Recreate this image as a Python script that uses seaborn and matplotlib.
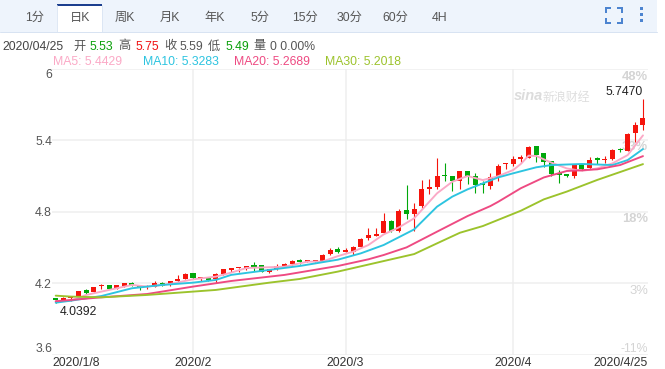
import matplotlib
matplotlib.use("Agg")
import matplotlib.pyplot as plt
from matplotlib.patches import Rectangle
import pandas as pd
import seaborn as sns

# ---- data ----
opens = [4.067,4.056,4.076,4.095,4.146,4.132,4.177,4.185,4.157,4.179,
         4.207,4.174,4.171,4.174,4.207,4.188,4.218,4.238,4.286,4.240,
         4.244,4.236,4.280,4.316,4.327,4.319,4.358,4.353,4.299,4.325,
         4.350,4.361,4.397,4.384,4.385,4.383,4.445,4.490,4.467,4.467,
         4.509,4.585,4.599,4.626,4.724,4.640,4.817,4.786,4.853,4.997,
         5.012,5.110,5.102,5.063,5.141,5.102,5.043,5.021,5.096,5.200,
         5.203,5.247,5.256,5.354,5.292,5.228,5.125,5.108,5.102,5.200,
         5.166,5.243,5.233,5.242,5.321,5.312,5.460,5.530]
closes = [4.064,4.081,4.079,4.135,4.121,4.168,4.180,4.154,4.185,4.202,
          4.179,4.171,4.174,4.202,4.179,4.218,4.235,4.277,4.249,4.244,
          4.232,4.277,4.322,4.319,4.330,4.347,4.341,4.299,4.322,4.347,
          4.353,4.389,4.381,4.387,4.389,4.439,4.481,4.464,4.470,4.506,
          4.574,4.607,4.612,4.724,4.640,4.808,4.786,4.825,4.990,5.000,
          5.102,5.099,5.060,5.141,5.105,5.029,5.024,5.091,5.186,5.203,
          5.245,5.250,5.343,5.278,5.222,5.119,5.108,5.105,5.194,5.158,
          5.236,5.240,5.236,5.321,5.318,5.454,5.530,5.590]
highs = [4.067,4.083,4.095,4.140,4.154,4.174,4.196,4.187,4.187,4.207,
         4.210,4.185,4.185,4.224,4.210,4.224,4.269,4.285,4.290,4.258,
         4.252,4.285,4.325,4.320,4.333,4.350,4.381,4.355,4.325,4.361,
         4.369,4.397,4.406,4.389,4.390,4.448,4.498,4.509,4.498,4.512,
         4.582,4.663,4.666,4.789,4.733,4.822,5.026,4.873,5.066,5.077,
         5.250,5.208,5.102,5.141,5.141,5.124,5.060,5.124,5.203,5.208,
         5.270,5.278,5.354,5.357,5.295,5.230,5.153,5.113,5.197,5.200,
         5.264,5.264,5.270,5.325,5.337,5.466,5.553,5.750]
lows = [4.039,4.050,4.050,4.090,4.112,4.126,4.151,4.150,4.150,4.174,
        4.175,4.146,4.157,4.170,4.175,4.180,4.215,4.235,4.240,4.220,
        4.220,4.200,4.274,4.299,4.299,4.315,4.308,4.297,4.291,4.316,
        4.341,4.350,4.364,4.382,4.383,4.378,4.436,4.456,4.464,4.439,
        4.504,4.562,4.600,4.626,4.635,4.635,4.738,4.643,4.831,4.951,
        4.990,5.060,4.976,4.996,5.038,4.962,4.962,4.993,5.063,5.163,
        5.189,5.214,5.250,5.222,5.180,5.102,5.041,5.091,5.088,5.147,
        5.158,5.203,5.214,5.238,5.306,5.310,5.390,5.490]

ma5_days = [0,2,4,7,10,12,15,18,21,23,25,30,33,35,37,39,41,43,45,47,48,50,52,54,56,58,60,61,62,63,65,67,69,71,73,75,77]
ma5_vals = [4.051,4.056,4.104,4.146,4.188,4.174,4.196,4.235,4.258,4.291,4.330,4.341,4.383,4.385,4.430,4.467,4.523,4.612,4.671,4.747,4.817,4.957,5.054,5.102,5.068,5.100,5.153,5.204,5.273,5.270,5.214,5.166,5.144,5.166,5.208,5.278,5.4429]
ma10_days = [0,2,6,10,14,18,21,23,28,32,37,40,43,47,50,52,54,56,58,60,63,65,69,73,75,77]
ma10_vals = [4.039,4.056,4.095,4.160,4.188,4.207,4.230,4.272,4.314,4.347,4.400,4.453,4.523,4.654,4.845,4.929,4.990,5.040,5.090,5.125,5.175,5.194,5.203,5.194,5.236,5.3283]
ma20_days = [0,6,12,18,23,30,37,41,43,46,50,54,57,58,61,64,67,71,74,77]
ma20_vals = [4.051,4.084,4.112,4.174,4.221,4.272,4.347,4.403,4.439,4.503,4.635,4.766,4.850,4.885,5.000,5.090,5.144,5.158,5.194,5.2689]
ma30_days = [0,2,6,12,18,21,28,32,37,44,47,50,53,56,61,64,67,71,77]
ma30_vals = [4.098,4.090,4.084,4.104,4.132,4.146,4.207,4.238,4.300,4.403,4.447,4.537,4.626,4.682,4.811,4.906,4.971,5.069,5.2018]

y_ticks = [6, 5.4, 4.8, 4.2, 3.6]
y_labels = ["6", "5.4", "4.8", "4.2", "3.6"]
x_days = [18, 38, 60]
x_labels = ["2020/1/8", "2020/2", "2020/3", "2020/4", "2020/4/25"]
pct_labels = ["48%", "33%", "18%", "3%", "-11%"]
tabs = ["1分", "日K", "周K", "月K", "年K", "5分", "15分", "30分", "60分", "4H"]

RED, GREEN = "#f5140c", "#00a80b"
MA_COL = {"MA5": "#fba9c6", "MA10": "#2dc4e0", "MA20": "#ee4a82", "MA30": "#9cc32c"}
FONT = ["Liberation Sans", "Noto Sans CJK SC"]
PX = 0.72  # points per pixel at dpi 100

sns.set_theme(style="white")
plt.rcParams["font.family"] = FONT

fig = plt.figure(figsize=(6.65, 3.69), dpi=100, facecolor="white")
W, H = 665, 369
L, R, T, B = 52, 648, 69, 355
ax = fig.add_axes([L / W, 1 - B / H, (R - L) / W, (B - T) / H])
x0, dx = 55.7, 7.627
xlim = ((L - x0) / dx, (R - x0) / dx)
ax.set_xlim(*xlim)
ax.set_ylim(3.6, 6)
for s in ax.spines.values():
    s.set_visible(False)

# grid
ax.set_yticks(y_ticks)
ax.set_yticklabels(y_labels, fontsize=8.8, color="#555555")
ax.set_xticks([xlim[0]] + x_days + [xlim[1]])
ax.set_xticklabels(x_labels, fontsize=8.8, color="#333333")
ax.tick_params(length=0, pad=0)
ax.tick_params(axis="x", pad=1.5)
ax.grid(True, color="#eeeeee", linewidth=1.5 * PX)
ax.set_axisbelow(True)
xl = ax.get_xticklabels()
xl[0].set_ha("left")
xl[-1].set_ha("right")
gl = ax.get_xgridlines()
gl[0].set_visible(False)
gl[-1].set_visible(False)
yl = ax.get_yticklabels()
yl[0].set_va("top")
yl[-1].set_va("bottom")

# right-hand percent labels
trans = ax.get_yaxis_transform()
for v, lab, off in zip(y_ticks, pct_labels, [8, 7, 7, 8, -6]):
    ax.annotate(lab, xy=(1, v), xycoords=trans, xytext=(0, -off * PX), textcoords="offset points",
                ha="right", va="center", fontsize=9.4 if lab != "-11%" else 8.8,
                color="#d4d4d4", fontweight="bold" if lab in ("48%", "33%", "18%") else "normal", zorder=1)

# watermark
chrome = fig.add_axes([0, 0, 1, 1], facecolor="none", zorder=5)
chrome.set_xlim(0, W)
chrome.set_ylim(H, 0)
chrome.axis("off")
ax.text(514, 96, "sina", transform=chrome.transData, fontsize=10.5, fontweight="bold", style="italic",
        color="#dcdcdc", va="center", ha="left", zorder=1)
ax.text(543, 98, "新浪财经", transform=chrome.transData, fontsize=8.6, color="#dedede", va="center", ha="left",
        zorder=1, style="italic")

# candles
days = list(range(len(opens)))
cols = [RED if c >= o else GREEN for o, c in zip(opens, closes)]
ax.vlines(days, lows, highs, colors=cols, linewidth=1.1 * PX, zorder=3)
bottoms = [min(o, c) for o, c in zip(opens, closes)]
heights = [max(abs(o - c), 0.012) for o, c in zip(opens, closes)]
ax.bar(days, heights, bottom=bottoms, width=0.66, color=cols, linewidth=0, zorder=3)

# moving averages
for name, d, v in [("MA5", ma5_days, ma5_vals), ("MA10", ma10_days, ma10_vals),
                   ("MA20", ma20_days, ma20_vals), ("MA30", ma30_days, ma30_vals)]:
    df = pd.DataFrame({"day": d, "value": v})
    sns.lineplot(data=df, x="day", y="value", ax=ax, color=MA_COL[name], linewidth=1.9 * PX,
                 errorbar=None, zorder=4, legend=False)
ax.set_xlabel("")
ax.set_ylabel("")

# high / low labels
ax.annotate("5.7470", xy=(days[-1], max(highs)), xytext=(0, 7 * PX), textcoords="offset points",
            ha="right", va="center", fontsize=8.8, color="#222222", zorder=6)
ax.annotate("4.0392", xy=(days[0], min(lows)), xytext=(4 * PX, -9 * PX), textcoords="offset points",
            ha="left", va="center", fontsize=8.8, color="#222222", zorder=6)

# toolbar
chrome.add_patch(Rectangle((0, 0), 657, 32, facecolor="#eef4fc", edgecolor="none"))
chrome.plot([0, 657], [32, 32], color="#d8e3f2", lw=1 * PX)
chrome.add_patch(Rectangle((57, 5), 45, 28, facecolor="white", edgecolor="none"))
chrome.plot([57, 102], [5, 5], color="#1c3f8f", lw=2 * PX, solid_capstyle="butt")
chrome.plot([57, 57], [5, 32], color="#d8e3f2", lw=0.8 * PX)
chrome.plot([102, 102], [5, 32], color="#d8e3f2", lw=0.8 * PX)
for i, t in enumerate(tabs):
    chrome.text(35 + 45 * i, 18, t, ha="center", va="center", fontsize=8.8, color="#555555")
BLUE = "#4d84d0"
a, b, c, d, k = 606, 622, 7.5, 22.5, 5
for xs, ys in [([a, a, a + k], [c + k, c, c]), ([b - k, b, b], [c, c, c + k]),
               ([a, a, a + k], [d - k, d, d]), ([b - k, b, b], [d, d, d - k])]:
    chrome.plot(xs, ys, color=BLUE, lw=2 * PX, solid_joinstyle="miter", solid_capstyle="butt")
for y in (8, 14, 20):
    chrome.add_patch(Rectangle((639.5, y - 1.5), 3, 3, facecolor=BLUE, edgecolor="none"))

# info rows
G, RD, GR = "#0aa00a", "#f01010", "#555555"
row = [(2, "2020/04/25", "#444444"), (73, "开", GR), (90, "5.53", G), (118, "高", GR), (135, "5.75", RD),
       (164, "收", GR), (180, "5.59", GR), (208, "低", GR), (225, "5.49", G), (253, "量", GR), (270, "0 0.00%", GR)]
for x, t, col in row:
    chrome.text(x, 46.5, t, ha="left", va="center", fontsize=8.8, color=col)
for x, t, key in [(53, "MA5: 5.4429", "MA5"), (143, "MA10: 5.3283", "MA10"),
                  (234, "MA20: 5.2689", "MA20"), (325, "MA30: 5.2018", "MA30")]:
    chrome.text(x, 62, t, ha="left", va="center", fontsize=8.8, color=MA_COL[key])

fig.savefig("out.png", dpi=100, facecolor="white")
